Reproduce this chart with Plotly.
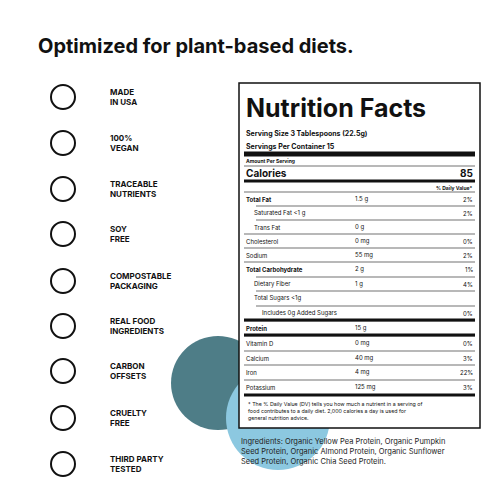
import plotly.graph_objects as go

# left column badges
badges = ["MADE<br>IN USA", "100%<br>VEGAN", "TRACEABLE<br>NUTRIENTS", "SOY<br>FREE",
          "COMPOSTABLE<br>PACKAGING", "REAL FOOD<br>INGREDIENTS", "CARBON<br>OFFSETS",
          "CRUELTY<br>FREE", "THIRD PARTY<br>TESTED"]
badge_y = [89, 135, 181, 226, 273, 318, 363, 410, 456]

# nutrition rows
names = ["Total Fat", "Saturated Fat <1 g", "Trans Fat", "Cholesterol", "Sodium",
         "Total Carbohydrate", "Dietary Fiber", "Total Sugars <1g", "Includes 0g Added Sugars",
         "Protein", "Vitamin D", "Calcium", "Iron", "Potassium"]
amounts = ["1.5 g", "", "0 g", "0 mg", "55 mg", "2 g", "1 g", "", "", "15 g", "0 mg", "40 mg", "4 mg", "125 mg"]
dv = ["2%", "2%", "", "0%", "2%", "1%", "4%", "", "0%", "", "0%", "3%", "22%", "3%"]
indent = [0, 1, 1, 0, 0, 0, 1, 1, 2, 0, 0, 0, 0, 0]
bold = [1, 0, 0, 0, 0, 1, 0, 0, 0, 1, 0, 0, 0, 0]
row_y = [191, 205, 219, 233, 247, 261, 276, 290, 305, 320, 335, 350, 364, 379]

F = "Inter, Roboto, sans-serif"
fig = go.Figure()
shapes, ann = [], []

def txt(x, y, s, size=7, b=False, anchor="left", color="#111"):
    ann.append(dict(x=x, y=y, text=f"<b>{s}</b>" if b else s, showarrow=False, xanchor=anchor,
                    yanchor="middle", font=dict(size=size, family=F, color=color), align="left"))

txt(28, 38, "Optimized for plant-based diets.", 20, True)

for lab, y in zip(badges, badge_y):
    shapes.append(dict(type="circle", x0=43, x1=67, y0=y - 12, y1=y + 12, line=dict(color="#111", width=2)))
    txt(100, y, lab, 8, True)

# decorative circles
shapes.append(dict(type="circle", x0=163, x1=257, y0=328, y1=422, fillcolor="#4E7D87", line_width=0))
shapes.append(dict(type="circle", x0=218, x1=322, y0=358, y1=462, fillcolor="#8CC8E0", line_width=0))
shapes.append(dict(type="rect", x0=231, x1=472, y0=75, y1=420, fillcolor="white", line=dict(color="#111", width=1.5)))

txt(236, 100, "Nutrition Facts", 25, True)
txt(236, 125, "Serving Size 3 Tablespoons (22.5g)", 7, True)
txt(236, 138, "Servings Per Container 15", 7, True)
shapes.append(dict(type="line", x0=236, x1=467, y0=146, y1=146, line=dict(color="#111", width=5)))
txt(236, 153, "Amount Per Serving", 5, True)
shapes.append(dict(type="line", x0=236, x1=467, y0=158, y1=158, line=dict(color="#111", width=0.6)))
txt(236, 165, "Calories", 10, True)
txt(467, 165, "85", 10, True, "right")
shapes.append(dict(type="line", x0=236, x1=467, y0=173, y1=173, line=dict(color="#111", width=3)))
txt(467, 180, "% Daily Value*", 5, True, "right")
for n, a, d, i, b, y in zip(names, amounts, dv, indent, bold, row_y):
    shapes.append(dict(type="line", x0=236 + (12 if i else 0), x1=467, y0=y - 7, y1=y - 7,
                       line=dict(color="#111", width=0.6)))
    txt(236 + i * 8, y, n, 6, bool(b))
    txt(345, y, a, 6)
    txt(467, y, d, 6, anchor="right")
shapes.append(dict(type="line", x0=236, x1=467, y0=312, y1=312, line=dict(color="#111", width=3)))
shapes.append(dict(type="line", x0=236, x1=467, y0=327, y1=327, line=dict(color="#111", width=3)))
shapes.append(dict(type="line", x0=236, x1=467, y0=387, y1=387, line=dict(color="#111", width=3)))
txt(238, 403, "* The % Daily Value (DV) tells you how much a nutrient in a serving of<br>"
    "food contributes to a daily diet. 2,000 calories a day is used for<br>general nutrition advice.", 5.3)
txt(231, 443, "Ingredients: Organic Yellow Pea Protein, Organic Pumpkin<br>Seed Protein, Organic Almond Protein, Organic Sunflower<br>"
    "Seed Protein, Organic Chia Seed Protein.", 7.5, color="#222")

fig.update_layout(width=500, height=500, margin=dict(l=0, r=0, t=0, b=0), plot_bgcolor="white",
                  paper_bgcolor="white", shapes=shapes, annotations=ann, showlegend=False,
                  xaxis=dict(range=[0, 500], visible=False), yaxis=dict(range=[500, 0], visible=False))
fig.write_html("out.html")
